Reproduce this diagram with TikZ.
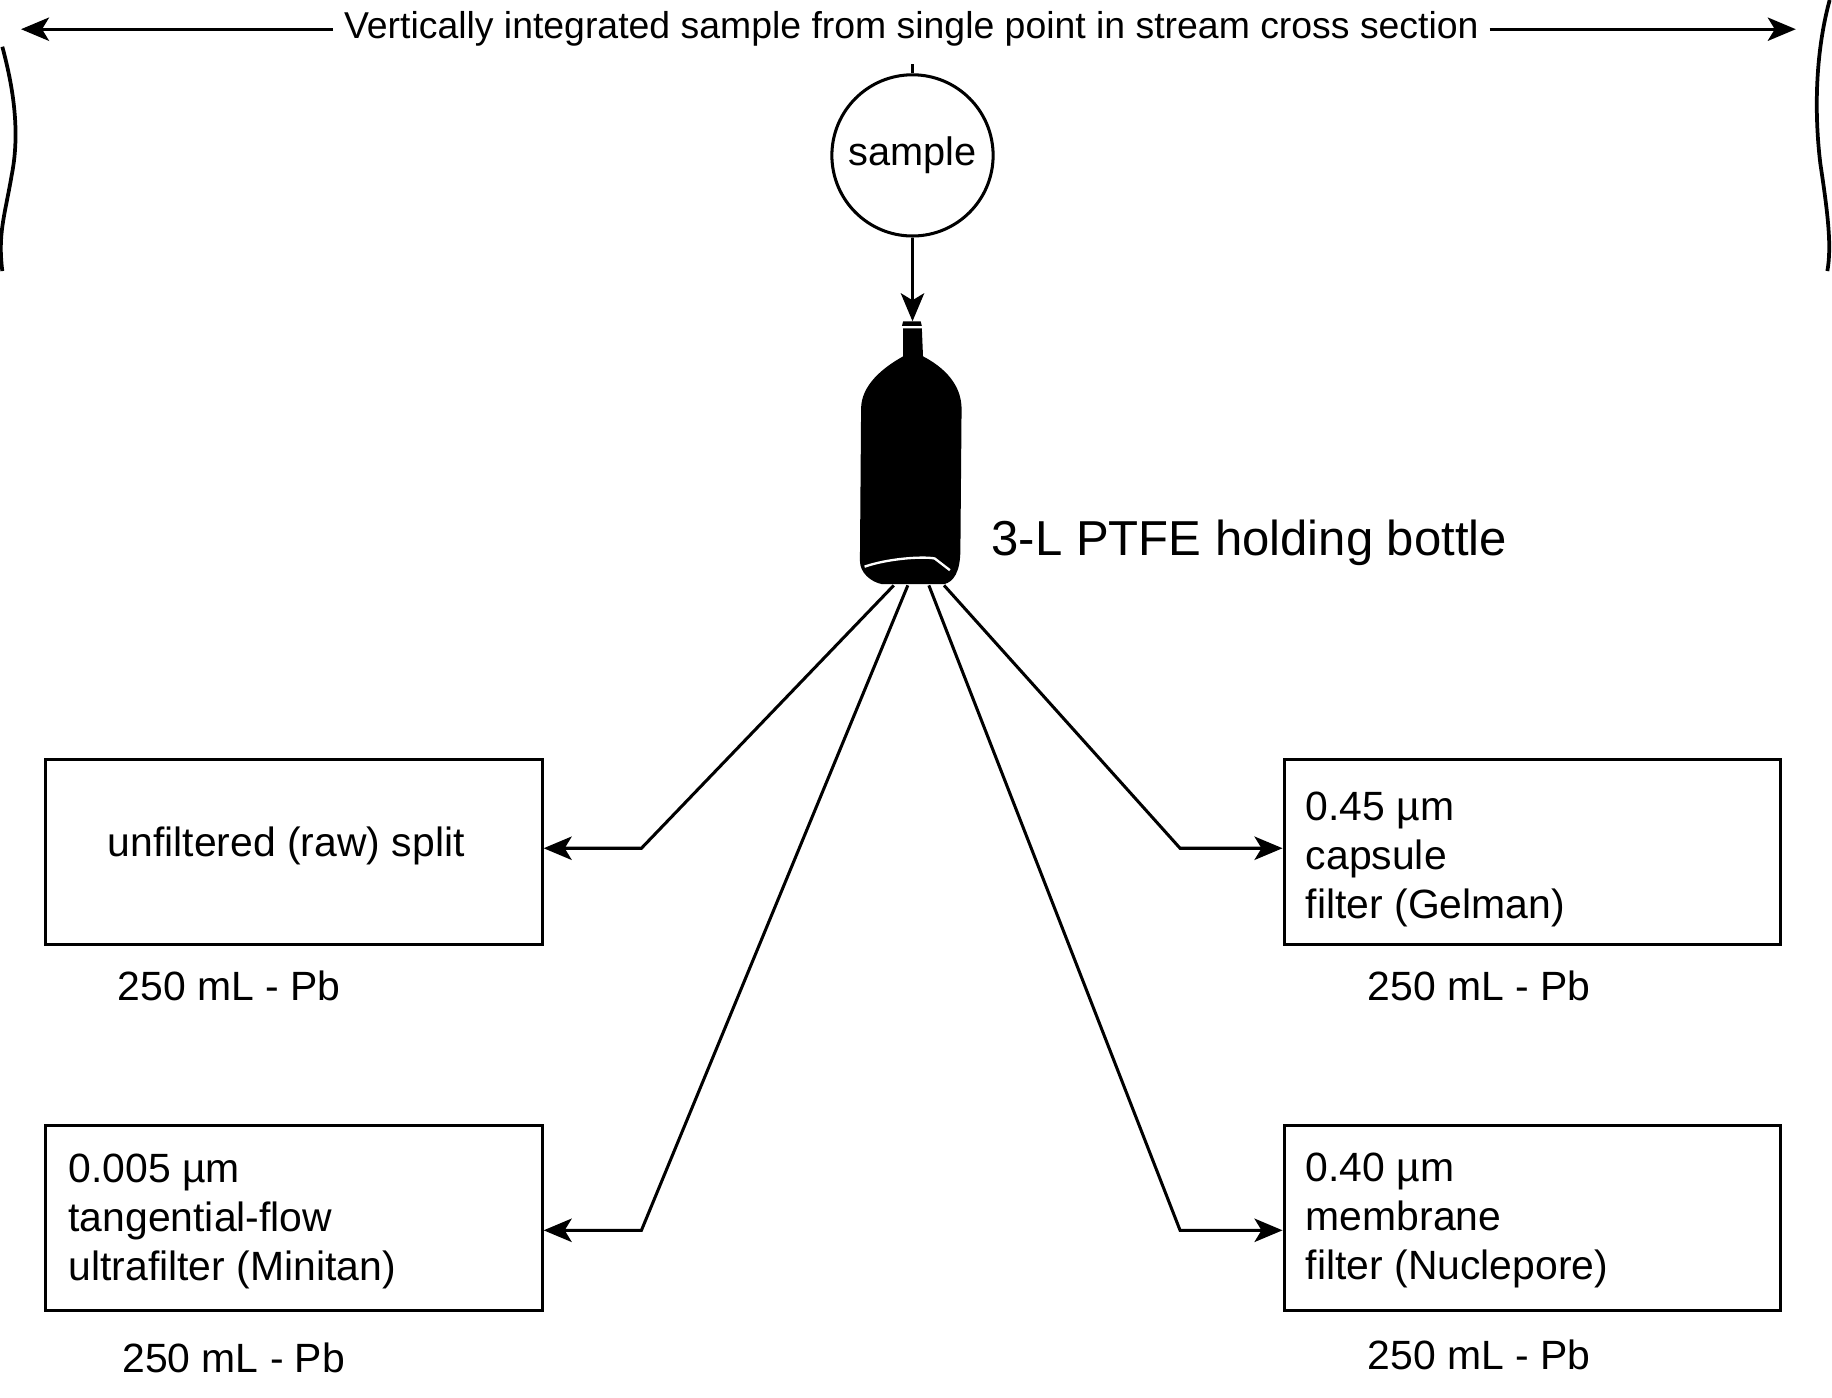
\documentclass[tikz,border=0pt]{standalone}
\usepackage{fontspec}
\setmainfont{Liberation Sans}
\usetikzlibrary{arrows.meta}
\begin{document}
\begin{tikzpicture}[x=1pt,y=-1pt,
  line width=2.6pt,
  arr/.style={-{Stealth[length=24pt,width=20pt,inset=6pt]}},
  box/.style={draw,minimum width=425pt,minimum height=158pt,inner sep=0pt},
  lbl/.style={font=\fontsize{35}{42}\selectfont},
  txt/.style={font=\fontsize{35}{42}\selectfont,align=left,anchor=north west}]
\useasboundingbox (0,0) rectangle (1568,1196);
% title arrow
\node[font=\fontsize{32}{36}\selectfont,fill=white,inner sep=8pt] (title) at (780,25) {Vertically integrated sample from single point in stream cross section};
\coordinate (L) at (18,25); \coordinate (R) at (1537,25);
\draw[arr] (title.west) -- (L);
\draw[arr] (title.east) -- (R);
% wavy banks
\draw[line width=3.2pt] (2,40) .. controls (10,70) and (18,110) .. (10,150) .. controls (4,185) and (-2,200) .. (2,232);
\draw[line width=3.2pt] (1566,0) .. controls (1555,40) and (1552,90) .. (1558,140) .. controls (1564,180) and (1568,210) .. (1564,232);
% sample
\coordinate (stub) at (781,55);
\node[draw,circle,minimum size=138pt,font=\fontsize{34}{40}\selectfont] (sample) at (781,133) {sample};
\draw (stub) -- (sample.north);
\coordinate (btop) at (781,275);
\draw[arr] (sample.south) -- (btop);
% bottle
\fill (773,281) -- (789,281) -- (790,305) .. controls (815,318) and (823,335) .. (823,350) -- (822,470) .. controls (822,490) and (816,498) .. (808,500) -- (755,500) .. controls (745,498) and (736,490) .. (736,480) -- (737,350) .. controls (737,330) and (755,315) .. (773,305) -- cycle;
\fill (773,275) -- (788,275) -- (789,279) -- (772,279) -- cycle;
\draw[white,line width=2pt] (740,485) .. controls (760,478) and (790,476) .. (800,478) -- (813,488);
\node[font=\fontsize{42}{48}\selectfont,anchor=west] (blabel) at (844,465) {3-L PTFE holding bottle};
\coordinate (b1) at (765,501); \coordinate (b2) at (777,501);
\coordinate (b3) at (795,501); \coordinate (b4) at (808,501);
% boxes
\node[box] (raw) at (251.5,729) {};
\node[lbl] at (245,724) {unfiltered (raw) split};
\node[box] (ultra) at (251.5,1042.5) {};
\node[txt] at (54,983) {0.005 µm\\tangential-flow\\ultrafilter (Minitan)};
\node[box] (caps) at (1311.5,729) {};
\node[txt] at (1113,673) {0.45 µm\\capsule\\filter (Gelman)};
\node[box] (memb) at (1311.5,1042.5) {};
\node[txt] at (1113,982) {0.40 µm\\membrane\\filter (Nuclepore)};
\node[lbl] (l1) at (196,844) {250 mL - Pb};
\node[lbl] (l2) at (200,1162) {250 mL - Pb};
\node[lbl] (l3) at (1266,844) {250 mL - Pb};
\node[lbl] (l4) at (1266,1160) {250 mL - Pb};
% connectors
\draw[arr] (b1) -- (549,726) -- (raw.east|-0,726);
\draw[arr] (b2) -- (549,1053) -- (ultra.east|-0,1053);
\draw[arr] (b4) -- (1010,726) -- (caps.west|-0,726);
\draw[arr] (b3) -- (1010,1053) -- (memb.west|-0,1053);
\end{tikzpicture}
\end{document}
